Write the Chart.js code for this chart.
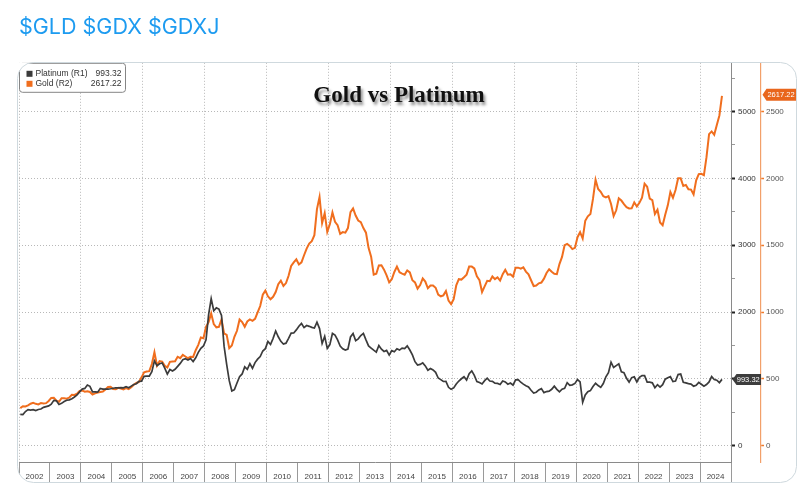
<!DOCTYPE html>
<html><head><meta charset="utf-8">
<script src="https://cdn.jsdelivr.net/npm/chart.js@4.4.1/dist/chart.umd.min.js"></script>
<style>html,body{margin:0;padding:0;background:#fff;overflow:hidden}</style>
</head><body>
<canvas id="c" width="799" height="497"></canvas>
<script>
// ---- data (monthly, Jan 2002 .. Sep 2024) ----
const START_YEAR = 2002;
const years = [2002,2003,2004,2005,2006,2007,2008,2009,2010,2011,2012,2013,2014,2015,2016,2017,2018,2019,2020,2021,2022,2023,2024];
const seriesNames = ['Platinum (R1)', 'Gold (R2)'];
const chartTitle = 'Gold vs Platinum';
const tweetText = '$GLD $GDX $GDXJ';
const r1TickValues = [0,500,1000,1500,2000,2500,3000,3500,4000,4500,5000,5500];
const r1Labels = [0,1000,2000,3000,4000,5000];
const r2TickValues = [0,500,1000,1500,2000,2500];

const gold = [
 282,296,294,303,315,322,314,310,320,316,319,335,
 358,360,338,329,356,356,352,361,381,380,390,410,
 414,405,408,403,384,392,398,402,406,421,440,441,
 424,423,434,429,422,432,424,438,457,470,478,512,
 550,556,558,612,700,600,634,630,598,586,628,630,
 632,666,655,680,668,655,666,665,715,755,810,805,
 890,925,990,910,885,890,945,840,830,730,750,815,
 860,945,925,890,930,945,935,950,998,1045,1130,1160,
 1118,1096,1114,1150,1208,1235,1195,1217,1272,1345,1372,1395,
 1356,1372,1425,1475,1512,1530,1575,1770,1860,1665,1740,1600,
 1656,1745,1675,1650,1585,1598,1594,1628,1747,1775,1722,1685,
 1672,1628,1594,1480,1414,1280,1287,1348,1350,1317,1275,1222,
 1245,1300,1340,1298,1288,1280,1312,1297,1238,1222,1175,1202,
 1252,1228,1178,1198,1199,1182,1130,1118,1125,1158,1086,1060,
 1097,1200,1246,1243,1260,1280,1340,1340,1326,1267,1238,1150,
 1192,1234,1231,1266,1246,1260,1236,1283,1316,1280,1282,1265,
 1331,1332,1325,1335,1303,1282,1238,1195,1199,1215,1221,1250,
 1292,1320,1301,1286,1284,1359,1413,1500,1510,1495,1471,1480,
 1560,1597,1550,1683,1716,1733,1846,1990,1921,1900,1866,1858,
 1867,1808,1718,1761,1850,1834,1807,1785,1775,1776,1821,1790,
 1817,1856,1960,1937,1849,1837,1733,1765,1670,1650,1727,1798,
 1898,1855,1913,2000,2000,1943,1951,1918,1916,1880,1985,2032,
 2034,2024,2158,2331,2351,2326,2399,2470,2617.22
];
const platinum = [
 470,466,513,541,535,540,526,543,550,575,587,597,
 622,680,674,618,635,663,682,688,705,731,761,806,
 849,858,910,890,807,808,802,857,847,849,849,853,
 861,868,867,870,867,883,869,893,918,929,965,968,
 1039,1043,1043,1110,1270,1198,1228,1239,1162,1072,1141,1120,
 1145,1188,1233,1287,1302,1284,1306,1261,1317,1398,1459,1493,
 1586,1961,2200,2020,2063,2045,1950,1490,1217,974,820,840,
 939,1034,1075,1181,1145,1229,1160,1245,1296,1335,1418,1453,
 1560,1515,1607,1718,1631,1563,1523,1535,1607,1685,1687,1734,
 1788,1830,1768,1799,1787,1771,1762,1850,1753,1531,1637,1458,
 1514,1680,1655,1584,1491,1452,1432,1446,1628,1680,1573,1600,
 1649,1682,1585,1494,1462,1430,1402,1501,1446,1411,1427,1357,
 1424,1407,1451,1432,1461,1453,1495,1433,1360,1258,1207,1218,
 1241,1195,1131,1157,1135,1099,1014,990,962,963,875,845,
 866,925,969,1003,1033,983,1080,1120,1054,962,947,925,
 975,1011,969,964,936,933,918,969,955,922,939,908,
 987,991,951,922,899,880,830,790,801,835,855,795,
 811,818,845,893,845,807,846,861,944,905,912,933,
 991,957,650,761,810,826,888,935,901,874,932,1032,
 1094,1250,1171,1199,1225,1106,1095,1009,953,1019,1031,955,
 1024,1050,1049,953,952,942,869,914,878,915,996,1017,
 1034,961,968,1066,1073,949,941,930,923,892,905,949,
 920,892,917,955,1036,992,981,945,993.32
];

// ---- styles ----
const PLAT_COLOR = '#3b3b3b';
const GOLD_COLOR = '#f06e1e';
const GRID = '#b8b8b8';
const W = 799, H = 497;
const FRAME = {x: 17.5, y: 62.5, w: 779, h: 420, r: 16};
const FONT = 'Liberation Sans';

const toPoints = arr => arr.map((v, i) => ({x: START_YEAR + (i + 0.5) / 12, y: v}));

function roundRectPath(ctx, x, y, w, h, r) {
  ctx.moveTo(x + r, y);
  ctx.arcTo(x + w, y, x + w, y + h, r);
  ctx.arcTo(x + w, y + h, x, y + h, r);
  ctx.arcTo(x, y + h, x, y, r);
  ctx.arcTo(x, y, x + w, y, r);
  ctx.closePath();
}

function tag(ctx, xl, xr, yc, h, fill, text, size) {
  ctx.beginPath();
  ctx.moveTo(xl, yc);
  ctx.lineTo(xl + 4, yc - h / 2);
  ctx.lineTo(xr, yc - h / 2);
  ctx.lineTo(xr, yc + h / 2);
  ctx.lineTo(xl + 4, yc + h / 2);
  ctx.closePath();
  ctx.fillStyle = fill;
  ctx.fill();
  ctx.fillStyle = '#fff';
  ctx.font = size + 'px "' + FONT + '"';
  ctx.textAlign = 'center';
  ctx.textBaseline = 'middle';
  ctx.fillText(text, (xl + 3 + xr) / 2, yc + 0.5);
}

const decor = {
  id: 'decor',
  beforeDraw(chart) {
    const ctx = chart.ctx;
    ctx.save();
    ctx.fillStyle = '#fff';
    ctx.fillRect(0, 0, W, H);
    ctx.beginPath();
    ctx.rect(0, 0, W, FRAME.y);
    roundRectPath(ctx, FRAME.x, FRAME.y, FRAME.w, FRAME.h, FRAME.r);
    ctx.clip();
  },
  afterDraw(chart) {
    const ctx = chart.ctx;
    const ca = chart.chartArea;
    const sy = chart.scales.y, sy2 = chart.scales.y2;

    // chart title with shadow
    ctx.save();
    ctx.font = 'bold 23px "Liberation Serif"';
    ctx.textAlign = 'center';
    ctx.textBaseline = 'alphabetic';
    ctx.shadowColor = 'rgba(0,0,0,0.45)';
    ctx.shadowOffsetX = 2;
    ctx.shadowOffsetY = 3;
    ctx.shadowBlur = 3;
    ctx.fillStyle = '#111';
    ctx.fillText(chartTitle, 399, 101.5);
    ctx.restore();

    // legend box
    ctx.save();
    const lx = ca.left + 0.5, ly = ca.top + 0.5, lw = 106, lh = 29;
    ctx.beginPath();
    roundRectPath(ctx, lx, ly, lw, lh, 3);
    ctx.fillStyle = '#fff';
    ctx.fill();
    ctx.strokeStyle = '#858585';
    ctx.lineWidth = 1;
    ctx.stroke();
    const colors = [PLAT_COLOR, GOLD_COLOR];
    const lastVals = [platinum[platinum.length - 1], gold[gold.length - 1]];
    ctx.font = '8.5px "' + FONT + '"';
    ctx.textBaseline = 'middle';
    seriesNames.forEach((name, i) => {
      const yc = ly + 10.5 + i * 10;
      ctx.fillStyle = colors[i];
      ctx.fillRect(lx + 7, yc - 3, 6, 6);
      ctx.fillStyle = '#333';
      ctx.textAlign = 'left';
      ctx.fillText(name, lx + 16, yc);
      ctx.textAlign = 'right';
      ctx.fillText(lastVals[i].toFixed(2), lx + lw - 4, yc);
    });
    ctx.restore();

    // last-value tags
    ctx.save();
    const lp = platinum[platinum.length - 1];
    const lg = gold[gold.length - 1];
    tag(ctx, ca.right + 1.5, sy2.left, sy.getPixelForValue(lp), 11, '#3d3d3d', lp.toFixed(2), 7.5);
    tag(ctx, sy2.left + 1.5, FRAME.x + FRAME.w, sy2.getPixelForValue(lg) - 1, 12, '#e9661c', lg.toFixed(2), 7.5);
    ctx.restore();

    ctx.restore(); // clip

    // tweet image frame
    ctx.save();
    ctx.beginPath();
    roundRectPath(ctx, FRAME.x, FRAME.y, FRAME.w, FRAME.h, FRAME.r);
    ctx.strokeStyle = '#cfd9de';
    ctx.lineWidth = 1;
    ctx.stroke();
    ctx.restore();
  }
};

new Chart(document.getElementById('c'), {
  type: 'line',
  data: {
    datasets: [
      {label: seriesNames[0], data: toPoints(platinum), yAxisID: 'y', borderColor: PLAT_COLOR, borderWidth: 1.7, pointRadius: 0, tension: 0, fill: false},
      {label: seriesNames[1], data: toPoints(gold), yAxisID: 'y2', borderColor: GOLD_COLOR, borderWidth: 2, pointRadius: 0, tension: 0, fill: false}
    ]
  },
  options: {
    responsive: false,
    animation: false,
    devicePixelRatio: 1,
    layout: {padding: {left: 19, right: 3, top: 0, bottom: 15}},
    plugins: {
      legend: {display: false},
      tooltip: {enabled: false},
      title: {
        display: true, text: tweetText, align: 'start', color: '#1d9bf0',
        font: {family: 'Inter', size: 21.5, weight: 'normal'},
        padding: {top: 15, bottom: 22}
      }
    },
    scales: {
      x: {
        type: 'linear', position: 'bottom', min: 2002, max: 2025,
        afterBuildTicks: s => { s.ticks = years.concat([2025]).map(v => ({value: v})); },
        afterFit: s => { s.height = 20; },
        ticks: {
          autoSkip: false, maxRotation: 0, minRotation: 0, padding: -10, labelOffset: 15.5,
          font: {family: FONT, size: 8}, color: '#444',
          callback: v => years.includes(v) ? String(v) : ''
        },
        grid: {
          color: c => (c.tick && c.tick.value % 2 === 0 && c.tick.value < 2025) ? GRID : 'rgba(0,0,0,0)',
          tickColor: '#9a9a9a', tickLength: 20, lineWidth: 1, tickWidth: 1, tickBorderDash: []
        },
        border: {display: true, color: '#8a8a8a', width: 1, dash: [1, 2]}
      },
      y: {
        type: 'linear', position: 'right', weight: 0, min: -242, max: 5728,
        afterBuildTicks: s => { s.ticks = r1TickValues.map(v => ({value: v})); },
        afterFit: s => { s.width = 30; },
        ticks: {
          autoSkip: false, padding: 3, font: {family: FONT, size: 8}, color: '#333',
          callback: v => r1Labels.includes(v) ? String(v) : ''
        },
        grid: {
          color: c => (c.tick && r1Labels.includes(c.tick.value)) ? GRID : 'rgba(0,0,0,0)',
          tickColor: c => (c.tick && r1Labels.includes(c.tick.value)) ? '#222' : '#9a9a9a',
          tickWidth: c => (c.tick && r1Labels.includes(c.tick.value)) ? 2 : 1,
          tickLength: 4, lineWidth: 1, tickBorderDash: []
        },
        border: {display: true, color: '#8a8a8a', width: 1, dash: [1, 2]}
      },
      y2: {
        type: 'linear', position: 'right', weight: 1, min: -121, max: 2864,
        afterBuildTicks: s => { s.ticks = r2TickValues.map(v => ({value: v})); },
        afterFit: s => { s.width = 35; },
        ticks: {autoSkip: false, padding: 2, font: {family: FONT, size: 8}, color: '#555', callback: v => String(v)},
        grid: {drawOnChartArea: false, tickColor: '#f07a2a', tickLength: 3, tickWidth: 1.5},
        border: {display: true, color: '#f2a06a', width: 1.2}
      }
    }
  },
  plugins: [decor]
});
</script>
</body></html>
